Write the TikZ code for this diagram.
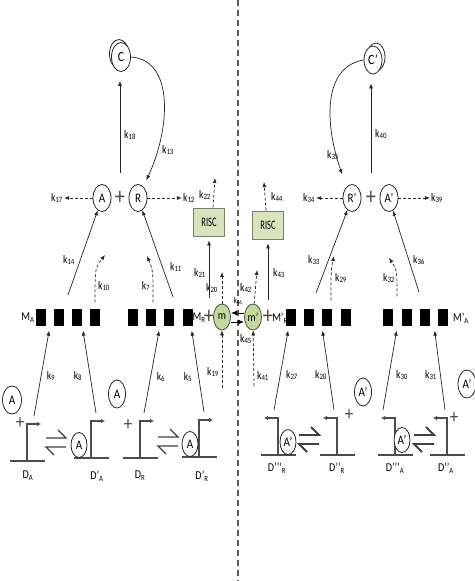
\documentclass[tikz,border=0pt]{standalone}
\usepackage{fontspec}
\setmainfont{Carlito}[FakeStretch=0.85]
\newfontfamily\riscfont{Carlito}[FakeStretch=0.65]
\usetikzlibrary{arrows.meta, shapes.geometric, calc}

\definecolor{mgreen}{HTML}{C4D89C}
\definecolor{riscfill}{HTML}{D7E4BD}
\definecolor{riscline}{HTML}{7A7F6E}

\newcommand{\krate}[1]{k\textsubscript{#1}}

\tikzset{
  species/.style={ellipse, draw=black!85, line width=0.8pt, fill=white,
    minimum width=18pt, minimum height=27pt, inner sep=0pt,
    font=\fontsize{13}{13}\selectfont},
  mrna/.style={ellipse, draw=black!70, line width=0.8pt, fill=mgreen,
    minimum width=17pt, minimum height=26pt, inner sep=0pt,
    font=\fontsize{12}{12}\selectfont},
  risc/.style={rectangle, draw=riscline, line width=0.9pt, fill=riscfill,
    minimum width=31pt, minimum height=28pt, inner sep=0pt,
    font=\riscfont\fontsize{13}{13}\selectfont},
  seg/.style={rectangle, fill=black, minimum width=10pt, minimum height=17pt, inner sep=0pt},
  plus/.style={inner sep=0pt, text=black!70, font=\fontsize{24}{24}\selectfont},
  klabel/.style={inner sep=1pt, font=\fontsize{11.5}{11.5}\selectfont},
  mtag/.style={inner sep=0pt, font=\fontsize{12}{12}\selectfont},
  react/.style={-{Latex[length=5pt,width=4pt]}, line width=0.7pt, black!85},
  toseg/.style={react, shorten >=5pt},
  flux/.style={-{Latex[length=5pt,width=4pt]}, line width=0.7pt, black!85, dash pattern=on 3pt off 2pt},
  gene/.style={line width=1.3pt, black!70},
}

\begin{document}
\begin{tikzpicture}[x=1pt, y=-1pt]
\fill[white] (0,0) rectangle (474,581);
\useasboundingbox (0,0) rectangle (474,581);

% separator
\draw[black!65, line width=1.2pt, dash pattern=on 6pt off 4pt] (238,0) -- (238,581);

% complexes
\node[species, minimum width=19pt, minimum height=29pt] (Cb) at (119,54) {};
\node[species, minimum width=19pt, minimum height=29pt, font=\fontsize{14}{14}\selectfont] (C) at (121,57) {C};
\node[species, minimum width=18pt, minimum height=28pt] (Cpb) at (376,57) {};
\node[species, minimum width=18pt, minimum height=28pt, font=\fontsize{14}{14}\selectfont] (Cp) at (373,60) {C’};

% proteins
\node[species] (A) at (102,198) {A};
\node[plus] (pAR) at (120,198) {+};
\node[species] (R) at (138,198) {R};
\node[species] (Rp) at (352,198) {R’};
\node[plus] (pRA) at (371,198) {+};
\node[species] (Ap) at (389,198) {A’};

\draw[react, shorten <=18pt, shorten >=9pt] (pAR) -- (pAR |- C.south);
\node[klabel, anchor=west] (k18) at (123,135) {\krate{18}};
\draw[react, shorten >=7pt] (C.east) .. controls (175,60) and (170,130) .. (R.65);
\node[klabel] (k13) at (168,150) {\krate{13}};
\node[klabel] (k17) at (57,198) {\krate{17}};
\node[klabel] (k12) at (189,198) {\krate{12}};
\draw[flux] (A) -- (k17);
\draw[flux] (R) -- (k12);

\draw[react, shorten <=18pt, shorten >=9pt] (pRA) -- (pRA |- Cp.south);
\node[klabel, anchor=west] (k40) at (374,134) {\krate{40}};
\draw[react, shorten >=13pt] (Cp.west) .. controls (318,68) and (328,135) .. (Rp.115);
\node[klabel] (k35) at (333,155) {\krate{35}};
\node[klabel] (k34) at (309,198) {\krate{34}};
\node[klabel] (k39) at (437,198) {\krate{39}};
\draw[flux] (Rp) -- (k34);
\draw[flux] (Ap) -- (k39);

% mRNA segments
\foreach \x [count=\i] in {41,59,77,95} \node[seg] (sa\i) at (\x,317) {};
\foreach \x [count=\i] in {133,151,169,188} \node[seg] (sr\i) at (\x,317) {};
\foreach \x [count=\i] in {291,309,327,346} \node[seg] (srp\i) at (\x,317) {};
\foreach \x [count=\i] in {388,407,425,443} \node[seg] (sap\i) at (\x,317) {};

\node[mtag] (MA) at (28,318) {M\textsubscript{A}};
\node[mtag] (MR) at (199,318) {M\textsubscript{R}};
\node[plus] (pR) at (209,317) {+};
\node[mrna] (m) at (222,317) {m};
\node[mrna] (mp) at (253,317) {m’};
\node[plus] (pRp) at (268,317) {+};
\node[mtag] (MRp) at (280,318) {M’\textsubscript{R}};
\node[mtag] (MAp) at (461,318) {M’\textsubscript{A}};

% RISC
\node[risc] (risc) at (209,222) {RISC};
\node[risc] (riscp) at (268,225) {RISC};
\draw[react, shorten <=12pt, shorten >=4pt] (pR) -- (risc);
\draw[react, shorten <=10pt, shorten >=4pt] (pRp) -- (riscp);
\node[klabel] (k21) at (200,273) {\krate{21}};
\node[klabel] (k43) at (279,273) {\krate{43}};
\coordinate (k22end) at (215,178);
\draw[flux] ([xshift=4pt]risc.north) -- (k22end);
\node[klabel] (k22) at (205,195) {\krate{22}};
\coordinate (k44end) at (264,182);
\draw[flux] ([xshift=-2pt]riscp.north) -- (k44end);
\node[klabel] (k44) at (277,197) {\krate{44}};

% m and m'
\coordinate (k20end) at (222,272);
\draw[flux] (m) -- (k20end);
\node[klabel] (k20) at (212,288) {\krate{20}};
\coordinate (k42end) at (257,270);
\draw[flux] (mp) -- (k42end);
\node[klabel] (k42) at (246,288) {\krate{42}};
\draw[black, line width=1pt, -{Latex[length=6pt,width=5pt]}] ([yshift=4pt]mp.west) -- ([yshift=4pt]m.east);
\draw[black, line width=1pt, -{Latex[length=6pt,width=5pt]}] ([yshift=-5pt]m.east) -- ([yshift=-5pt]mp.west);
\node[klabel, font=\fontsize{8.5}{8.5}\selectfont] (k46) at (238,301) {\krate{46}};
\node[klabel] (k45) at (246,339) {\krate{45}};
\coordinate (k19start) at (222,388);
\draw[flux] (k19start) -- (m);
\node[klabel] (k19) at (213,372) {\krate{19}};
\coordinate (k41start) at (254,386);
\draw[flux] (k41start) -- (mp);
\node[klabel] (k41) at (263,376) {\krate{41}};

% translation
\coordinate (k14start) at (68,295);
\draw[react] (k14start) -- (A);
\node[klabel] (k14) at (69,260) {\krate{14}};
\coordinate (k11start) at (173,297);
\draw[react] (k11start) -- (R);
\node[klabel] (k11) at (176,267) {\krate{11}};
\coordinate (k33start) at (316,293);
\draw[react] (k33start) -- (Rp);
\node[klabel] (k33) at (314,260) {\krate{33}};
\coordinate (k36start) at (419,292);
\draw[react] (k36start) -- (Ap);
\node[klabel] (k36) at (419,260) {\krate{36}};

% decay
\coordinate (k10end) at (105,255);
\draw[flux] ([yshift=6pt]sa4.north) .. controls (95,268) .. (k10end);
\node[klabel] (k10) at (104,286) {\krate{10}};
\coordinate (k7end) at (147,256);
\draw[flux] ([xshift=2pt,yshift=6pt]sr2.north) .. controls (153,270) .. (k7end);
\node[klabel] (k7) at (146,286) {\krate{7}};
\coordinate (k29end) at (334,256);
\draw[flux] ([xshift=4pt,yshift=8pt]srp3.north) .. controls (331,270) .. (k29end);
\node[klabel] (k29) at (341,278) {\krate{29}};
\coordinate (k32end) at (389,258);
\draw[flux] ([xshift=9pt,yshift=12pt]sap1.north) .. controls (397,270) .. (k32end);
\node[klabel] (k32) at (389,278) {\krate{32}};

% genes
\foreach \gx/\gy/\gd/\go/\gn in {27/461/1/7/DA, 91/458/1/5/DpA, 140/458/1/4/DR, 199/457/1/5/DpR,
    278/455/-1/-4/DtR, 337/455/-1/-3/DdR, 395/455/-1/-12/DtA, 447/455/-1/-2/DdA}{
  \draw[gene, line width=1.8pt] (\gx-17,\gy) -- (\gx+18,\gy);
  \draw[gene, -{Latex[length=4pt,width=4.5pt]}] (\gx,\gy) -- (\gx,\gy-37) -- (\gx+\gd*14,\gy-37);
  \coordinate (\gn) at (\gx+\go,\gy-45);
}

\foreach \hx/\hy/\hw in {46/438/1.1pt, 158/437/1.1pt, 299/435/1.8pt, 414/435/1.8pt}{
  \draw[black!75, line width=\hw] (\hx,\hy) -- (\hx+20,\hy) -- (\hx+12,\hy-8);
  \draw[black!75, line width=\hw] (\hx+20,\hy+9) -- (\hx,\hy+9) -- (\hx+8,\hy+17);
}

\node[species, minimum width=16pt, minimum height=25pt] (bA1) at (79,445) {A};
\node[species, minimum width=16pt, minimum height=25pt] (bA2) at (190,444) {A};
\node[species, minimum width=16pt, minimum height=25pt] (bAp1) at (288,442) {A’};
\node[species, minimum width=16pt, minimum height=25pt] (bAp2) at (402,440) {A’};

\node[species, minimum width=19pt, minimum height=28pt] (fA1) at (12,400) {A};
\node[species, minimum width=17pt, minimum height=28pt] (fA2) at (117,394) {A};
\node[species, minimum width=17pt, minimum height=28pt] (fAp1) at (363,392) {A’};
\node[species, minimum width=18pt, minimum height=28pt] (fAp2) at (467,384) {A’};

\node[plus, font=\fontsize{20}{20}\selectfont] (pg1) at (20,423) {+};
\node[plus, font=\fontsize{20}{20}\selectfont] (pg2) at (128,425) {+};
\node[plus, font=\fontsize{20}{20}\selectfont] (pg3) at (349,415) {+};
\node[plus, font=\fontsize{20}{20}\selectfont] (pg4) at (454,418) {+};

\draw[toseg] (DA) -- ($(sa1.south)!0.5!(sa2.south)$);
\draw[toseg] (DpA) -- (sa3.south east);
\draw[toseg] (DR) -- ($(sr2.south)!0.5!(sr3.south)$);
\draw[toseg] (DpR) -- ([xshift=3pt]sr4.south);
\draw[toseg] (DtR) -- ([xshift=-2pt]srp1.south);
\draw[toseg] (DdR) -- (srp3.south west);
\draw[toseg] (DtA) -- ($(sap1.south)!0.5!(sap2.south)$);
\draw[toseg] (DdA) -- ($(sap3.south)!0.5!(sap4.south)$);

\node[klabel] (k9) at (51,376) {\krate{9}};
\node[klabel] (k8) at (78,376) {\krate{8}};
\node[klabel] (k6) at (161,377) {\krate{6}};
\node[klabel] (k5) at (188,377) {\krate{5}};
\node[klabel] (k27) at (292,375) {\krate{27}};
\node[klabel] (k28) at (321,375) {\krate{28}};
\node[klabel] (k30) at (402,375) {\krate{30}};
\node[klabel] (k31) at (431,375) {\krate{31}};

\node[mtag] (lDA) at (28,476) {D\textsubscript{A}};
\node[mtag] (lDpA) at (97,476) {D’\textsubscript{A}};
\node[mtag] (lDR) at (140,476) {D\textsubscript{R}};
\node[mtag] (lDpR) at (202,476) {D’\textsubscript{R}};
\node[mtag] (lDtR) at (277,468) {D’’’\textsubscript{R}};
\node[mtag] (lDdR) at (337,468) {D’’\textsubscript{R}};
\node[mtag] (lDtA) at (395,468) {D’’’\textsubscript{A}};
\node[mtag] (lDdA) at (446,468) {D’’\textsubscript{A}};
\end{tikzpicture}
\end{document}
